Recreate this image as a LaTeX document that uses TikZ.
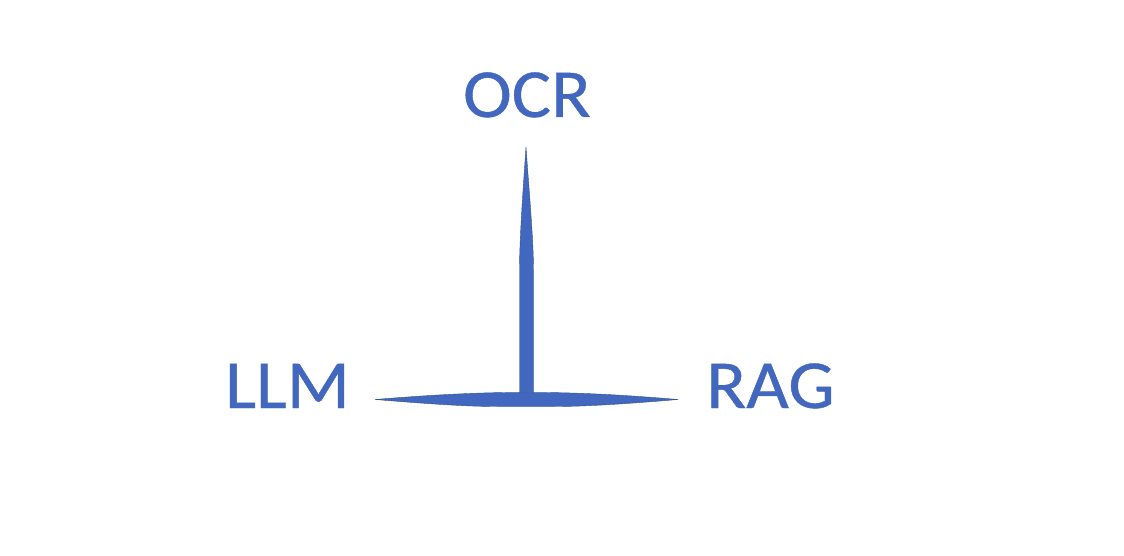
\documentclass[tikz,border=0pt]{standalone}
\usepackage{fontspec}
\setmainfont{Carlito}
\newfontfamily\tagfont[FakeStretch=1.07,FakeBold=0.6]{Carlito}
\usetikzlibrary{positioning}
\definecolor{officeblue}{HTML}{4267BE}
\definecolor{officeline}{HTML}{2F528F}

\begin{document}
\begin{tikzpicture}[x=1bp,y=-1bp, word/.style={text=officeblue,font=\tagfont\fontsize{69}{69}\selectfont,anchor=base,inner sep=0pt}, spike/.style={fill=officeblue,draw=officeline,line width=0.4bp}]
\useasboundingbox (0,0) rectangle (1124,556);

\node[word] (ocr) at (527,117) {OCR};
\node[word] (llm) at (287.5,408) {LLM};
\node[word] (rag) at (770.5,408) {RAG};

% tip points of the T
\coordinate (top) at (526,147);
\coordinate (left) at (375,399.5);
\coordinate (right) at (678,399.5);

% horizontal piece
\filldraw[spike] (left) .. controls (430,395) and (470,393) .. (505,392.5) -- (547,392.5)
    .. controls (585,393) and (625,395) .. (right)
    .. controls (625,404) and (585,406.5) .. (555,406.5) -- (497,406.5)
    .. controls (467,406.5) and (430,404) .. (left) -- cycle;
% vertical piece
\filldraw[spike] (top) .. controls (523,190) and (519.5,240) .. (519.5,270) -- (519.5,393)
    -- (533.5,393) -- (533.5,270) .. controls (533.5,240) and (529,190) .. (top) -- cycle;

\end{tikzpicture}
\end{document}
